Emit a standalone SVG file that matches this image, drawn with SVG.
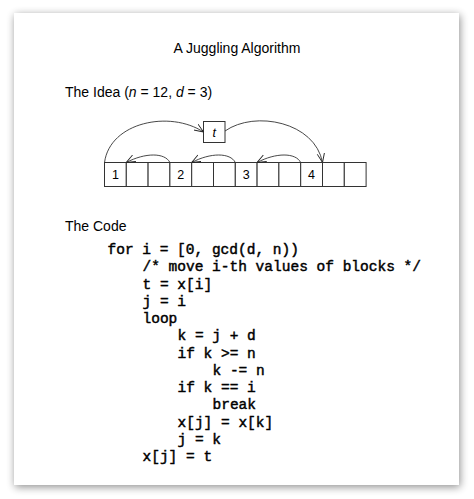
<svg xmlns="http://www.w3.org/2000/svg" width="474" height="499" viewBox="0 0 474 499">
<defs>
<filter id="shadow" x="-10%" y="-10%" width="120%" height="120%">
<feGaussianBlur in="SourceAlpha" stdDeviation="4"/>
<feOffset dx="1" dy="2" result="b"/>
<feComponentTransfer><feFuncA type="linear" slope="0.45"/></feComponentTransfer>
<feMerge><feMergeNode/><feMergeNode in="SourceGraphic"/></feMerge>
</filter>
<marker id="arr" viewBox="0 0 10 10" refX="10" refY="5" markerWidth="9" markerHeight="9" markerUnits="userSpaceOnUse" orient="auto">
<path d="M0,1 L10,5 L0,9" fill="none" stroke="#222" stroke-width="1"/>
</marker>
</defs>
<style>
.sans{font-family:"Liberation Sans",Arial,sans-serif;fill:#000}
.h{font-size:14px}
.code{font-family:"Liberation Mono","Courier New",monospace;font-size:14.5px;fill:#000;stroke:#000;stroke-width:0.45;white-space:pre}
.cell{fill:#fff;stroke:#333;stroke-width:1}
.lbl{font-family:"Liberation Sans",Arial,sans-serif;font-size:12.5px;fill:#000;text-anchor:middle}
.arc{fill:none;stroke:#333;stroke-width:0.9;marker-end:url(#arr)}
</style>
<rect width="474" height="499" fill="#fff"/>
<rect x="14" y="13" width="445" height="472" fill="#fff" filter="url(#shadow)"/>
<text class="sans h" x="237" y="53" text-anchor="middle">A Juggling Algorithm</text>
<text class="sans h" x="65" y="97">The Idea (<tspan font-style="italic">n</tspan> = 12, <tspan font-style="italic">d</tspan> = 3)</text>
<g id="array">
<rect class="cell" x="104.5" y="162.5" width="21.8" height="24"/>
<rect class="cell" x="126.3" y="162.5" width="21.8" height="24"/>
<rect class="cell" x="148.1" y="162.5" width="21.8" height="24"/>
<rect class="cell" x="169.9" y="162.5" width="21.8" height="24"/>
<rect class="cell" x="191.7" y="162.5" width="21.8" height="24"/>
<rect class="cell" x="213.5" y="162.5" width="21.8" height="24"/>
<rect class="cell" x="235.3" y="162.5" width="21.8" height="24"/>
<rect class="cell" x="257.1" y="162.5" width="21.8" height="24"/>
<rect class="cell" x="278.9" y="162.5" width="21.8" height="24"/>
<rect class="cell" x="300.7" y="162.5" width="21.8" height="24"/>
<rect class="cell" x="322.5" y="162.5" width="21.8" height="24"/>
<rect class="cell" x="344.3" y="162.5" width="21.8" height="24"/>
<text class="lbl" x="115.4" y="179">1</text>
<text class="lbl" x="180.8" y="179">2</text>
<text class="lbl" x="246.2" y="179">3</text>
<text class="lbl" x="311.6" y="179">4</text>
</g>
<g id="t">
<rect class="cell" x="203.5" y="121.5" width="21.5" height="21"/>
<text class="lbl" x="214.3" y="136.5" font-style="italic">t</text>
</g>
<g id="connectors">
<path class="arc" d="M104.5,162.5 C110,122 170,110 203.5,132"/>
<path class="arc" d="M225,131 C255,110 315,122 322.5,162.5"/>
<path class="arc" d="M169.9,162.5 C165,152.5 145,152.5 126.3,162.5"/>
<path class="arc" d="M235.3,162.5 C230.4,152.5 210.4,152.5 191.7,162.5"/>
<path class="arc" d="M300.7,162.5 C295.8,152.5 275.8,152.5 257.1,162.5"/>
</g>
<text class="sans h" x="65" y="231">The Code</text>
<g id="code">
<text class="code" x="107.5" y="254">for i = [0, gcd(d, n))</text>
<text class="code" x="142.5" y="271.25">/* move i-th values of blocks */</text>
<text class="code" x="142.5" y="288.5">t = x[i]</text>
<text class="code" x="142.5" y="305.75">j = i</text>
<text class="code" x="142.5" y="323">loop</text>
<text class="code" x="177.5" y="340.25">k = j + d</text>
<text class="code" x="177.5" y="357.5">if k &gt;= n</text>
<text class="code" x="212.5" y="374.75">k -= n</text>
<text class="code" x="177.5" y="392">if k == i</text>
<text class="code" x="212.5" y="409.25">break</text>
<text class="code" x="177.5" y="426.5">x[j] = x[k]</text>
<text class="code" x="177.5" y="443.75">j = k</text>
<text class="code" x="142.5" y="461">x[j] = t</text>
</g>
</svg>
